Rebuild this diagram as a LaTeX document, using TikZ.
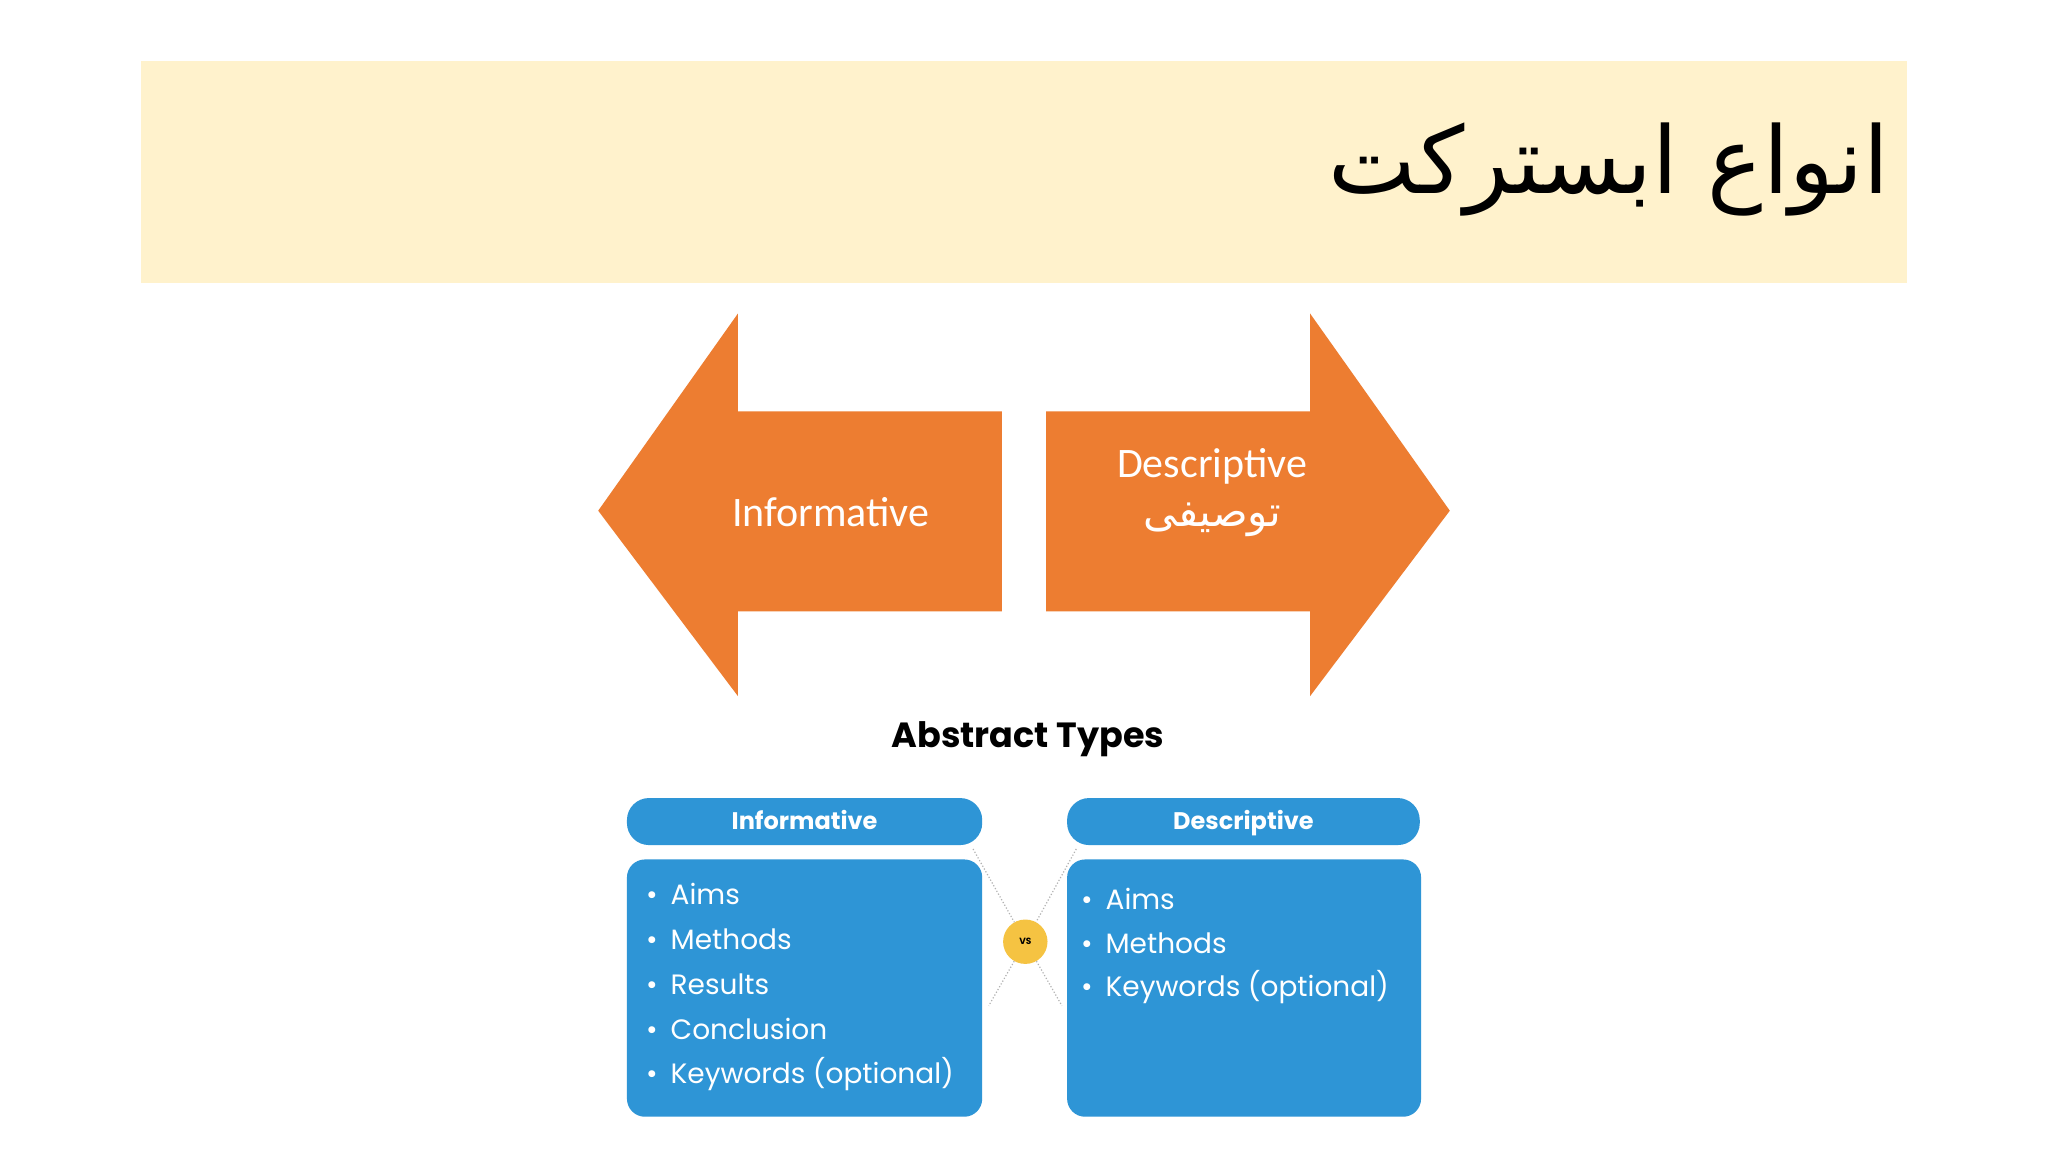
\documentclass[tikz,border=0pt]{standalone}
\usepackage{fontspec}
\setmainfont{Carlito}
\newfontfamily\arabicfont[Script=Arabic]{DejaVu Sans}
\newfontfamily\popfont{Poppins}
\TeXXeTstate=1
\definecolor{band}{HTML}{FFF2CC}
\definecolor{orng}{HTML}{ED7D31}
\definecolor{blu}{HTML}{2E95D6}
\definecolor{yel}{HTML}{F5C342}
\tikzset{
  pill/.style={fill=blu, rounded corners=22pt, draw=none},
  bodybox/.style={fill=blu, rounded corners=18pt, draw=none},
  item/.style={anchor=west, text=white, font=\popfont\fontsize{28}{30}\selectfont},
  hdr/.style={text=white, anchor=base, font=\popfont\bfseries\fontsize{24}{26}\selectfont},
  dotl/.style={gray!60, dotted, line width=1.2pt}
}
\begin{document}
\begin{tikzpicture}[x=1.3061pt,y=-1.3061pt]
\useasboundingbox (0,0) rectangle (1568,882);
\fill[white] (0,0) rectangle (1568,882);
% title band
\fill[band] (108,47) rectangle (1460,217);
\node[anchor=east, font=\arabicfont\fontsize{93}{98}\selectfont] (title) at (1449,130) {\beginR انواع ابسترکت\endR};
% arrows
\fill[orng] (458,391) -- (565,240) -- (565,315) -- (767,315) -- (767,468) -- (565,468) -- (565,533) -- cycle;
\fill[orng] (1110,391) -- (1003,240) -- (1003,315) -- (801,315) -- (801,468) -- (1003,468) -- (1003,533) -- cycle;
\node[text=white, font=\fontsize{42}{46}\selectfont] (inf) at (636,392) {Informative};
\node[text=white, font=\fontsize{42}{46}\selectfont] (desc) at (928,357) {Descriptive};
\node[text=white, font=\arabicfont\fontsize{42}{48}\selectfont] (desca) at (928,398) {\beginR توصیفی\endR};
% lower diagram
\node[font=\popfont\bfseries\fontsize{35}{38}\selectfont] (abs) at (787,566) {Abstract Types};
\fill[pill] (480,611) rectangle (752,647);
\fill[pill] (817,611) rectangle (1087,647);
\node[hdr] (h1) at (616,635) {Informative};
\node[hdr] (h2) at (952,635) {Descriptive};
\fill[bodybox] (480,658) rectangle (752,855);
\fill[bodybox] (817,658) rectangle (1088,855);
\coordinate (c1) at (745,650);
\coordinate (c2) at (824,650);
\coordinate (c3) at (757,770);
\coordinate (c4) at (813,770);
\node[circle, fill=yel, minimum size=34*1.3061pt, inner sep=0pt, font=\popfont\bfseries\fontsize{9}{10}\selectfont] (vs) at (785,721) {VS};
\draw[dotl] (c1) -- (vs);
\draw[dotl] (c2) -- (vs);
\draw[dotl] (vs) -- (c3);
\draw[dotl] (vs) -- (c4);
\foreach \t [count=\i] in {Aims,Methods,Results,Conclusion,Keywords (optional)} {
  \node[item] (l\i) at (492, 650+34.5*\i) {•\hspace{13pt}\t};
}
\foreach \t [count=\i] in {Aims,Methods,Keywords (optional)} {
  \node[item] (r\i) at (825, 654+34*\i) {•\hspace{13pt}\t};
}
\end{tikzpicture}
\end{document}
